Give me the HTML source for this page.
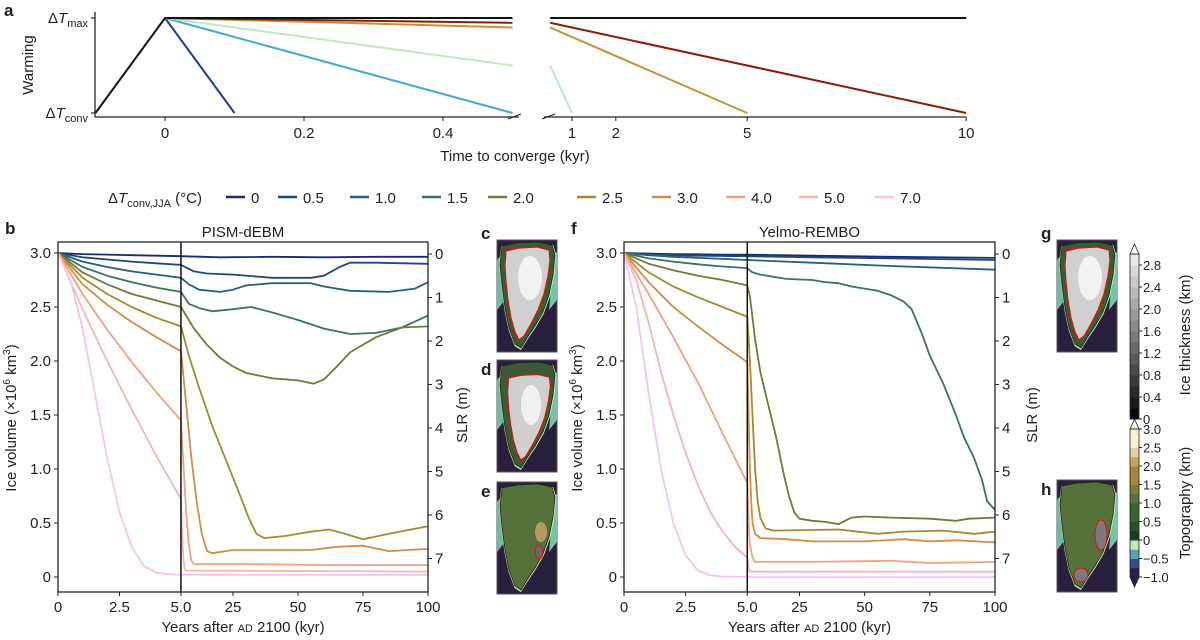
<!DOCTYPE html>
<html><head><meta charset="utf-8"><style>
body{margin:0;background:#fff}
svg{display:block;font-family:"Liberation Sans",sans-serif}
text{fill:#222}
</style></head><body>
<svg id="fig" width="1200" height="640" viewBox="0 0 1200 640" xmlns="http://www.w3.org/2000/svg">
<defs>
<path id="gl" d="M5,6 L20,3 L40,2 L55,5 L58,15 L56,35 L52,55 L46,72 L38,86 L30,98 L24,108 L18,104 L12,88 L8,68 L5,45 L3,25 Z"/>
<path id="ice" d="M9,11 L22,8 L40,7 L52,10 L53,20 L51,36 L47,54 L41,70 L34,84 L27,96 L22,100 L18,92 L14,78 L11,60 L9,42 L8,26 Z"/>
</defs>
<g id="panelA"></g>
<g id="legend"></g>
<g id="panelB"></g>
<g id="panelF"></g>
<g id="maps"></g>
<g id="cbars"></g>
</svg>
<script>
// ---------- data ----------
const levelLabels = ["0","0.5","1.0","1.5","2.0","2.5","3.0","4.0","5.0","7.0"];
const levelColors = ["#1b2a72","#1f4878","#25617a","#3b7262","#6c7d3a","#a48a2e","#d48c44","#f4a07e","#f8b3b3","#f6c3f0"];
// panel a: convergence times (kyr)
const convTimes = [0.1, 0.5, 1, 5, 10];
const convColors = ["#1d3d9e","#44a9d9","#bde9c3","#c39234","#8b1b0c"];
const aTicksLeft = [0, 0.2, 0.4];
const aTicksRight = [1, 2, 5, 10];
// panel b: PISM-dEBM
const pismT = [
 [0,1,2,3,4,5,20,40,60,80,100],
 [0,1,2,3,4,5,10,15,25,40,55,60,66,70,80,100],
 [0,1,2,3,4,5,8,12,20,25,30,40,55,60,70,85,95,100],
 [0,1,2,3,4,5,8,12,17,25,32,40,50,60,70,80,90,100],
 [0,1,2,3,4,5,10,15,20,25,30,40,50,56,60,65,70,80,90,100],
 [0,1,2,3,4,5,8,12,17,22,27,31,34,37,45,55,62,68,75,85,100],
 [0,1,2,3,4,5,7,9,11,13,15,17,25,40,55,65,75,85,100],
 [0,1,2,3,4,5,6,7,8,9,10,30,60,100],
 [0,1,2,3,4,5,5.5,6,6.5,7,100],
 [0,0.5,1,1.5,2,2.5,3,3.5,4,4.5,5,100]
];
const pismV = [
 [3.0,2.99,2.985,2.98,2.975,2.97,2.96,2.965,2.96,2.965,2.965],
 [3.0,2.96,2.94,2.92,2.905,2.89,2.83,2.81,2.80,2.77,2.77,2.79,2.87,2.91,2.91,2.90],
 [3.0,2.92,2.87,2.83,2.80,2.77,2.71,2.66,2.64,2.66,2.70,2.72,2.72,2.69,2.65,2.64,2.67,2.73],
 [3.0,2.87,2.79,2.73,2.68,2.64,2.53,2.49,2.46,2.48,2.50,2.45,2.38,2.30,2.25,2.26,2.31,2.42],
 [3.0,2.82,2.71,2.62,2.56,2.50,2.30,2.15,2.03,1.95,1.89,1.84,1.82,1.79,1.83,1.95,2.08,2.22,2.31,2.32],
 [3.0,2.77,2.62,2.50,2.40,2.32,2.05,1.75,1.40,1.10,0.80,0.55,0.40,0.36,0.38,0.42,0.44,0.40,0.35,0.40,0.47],
 [3.0,2.71,2.52,2.36,2.22,2.09,1.6,1.1,0.7,0.4,0.24,0.22,0.25,0.25,0.25,0.28,0.29,0.24,0.26],
 [3.0,2.62,2.29,1.99,1.71,1.45,1.0,0.6,0.3,0.15,0.12,0.12,0.11,0.11],
 [3.0,2.48,2.0,1.55,1.12,0.72,0.35,0.15,0.07,0.06,0.05],
 [3.0,2.75,2.3,1.7,1.1,0.6,0.28,0.1,0.04,0.025,0.02,0.02]
];
// panel f: Yelmo-REMBO
const yelmoT = [
 [0,1,2,3,4,5,30,60,100],
 [0,1,2,3,4,5,30,60,100],
 [0,1,2,3,4,5,30,60,100],
 [0,1,2,3,4,5,7,10,15,20,25,30,35,40,45,50,55,60,65,68,72,75,80,85,88,92,95,97,100],
 [0,1,2,3,4,5,6,8,10,13,16,19,21,23,25,30,35,40,45,50,60,75,85,90,100],
 [0,1,2,3,4,5,6,7,8,9,10,12,15,40,55,65,80,92,100],
 [0,1,2,3,4,5,5.5,6,6.5,7,8,10,20,30,50,65,75,85,100],
 [0,1,2,3,4,5,5.5,6,7,8,30,60,75,100],
 [0,0.5,1,1.5,2,2.5,3,3.5,4,4.5,5,5.5,6,100],
 [0,0.5,1,1.5,2,2.5,3,3.5,4,5,100]
];
const yelmoV = [
 [3.0,2.995,2.99,2.988,2.985,2.985,2.975,2.965,2.955],
 [3.0,2.99,2.98,2.975,2.972,2.97,2.96,2.95,2.935],
 [3.0,2.98,2.965,2.955,2.945,2.935,2.91,2.88,2.845],
 [3.0,2.95,2.92,2.895,2.875,2.86,2.82,2.80,2.78,2.76,2.755,2.75,2.73,2.72,2.69,2.67,2.65,2.61,2.55,2.48,2.25,2.05,1.8,1.5,1.3,1.1,0.9,0.7,0.62],
 [3.0,2.90,2.84,2.79,2.75,2.70,2.60,2.2,1.9,1.6,1.3,0.95,0.75,0.6,0.54,0.52,0.51,0.49,0.55,0.56,0.55,0.54,0.52,0.54,0.55],
 [3.0,2.82,2.69,2.59,2.50,2.41,2.0,1.5,1.0,0.7,0.55,0.45,0.43,0.44,0.40,0.42,0.43,0.40,0.42],
 [3.0,2.73,2.50,2.32,2.15,1.99,1.5,1.0,0.7,0.5,0.4,0.36,0.35,0.33,0.33,0.35,0.33,0.34,0.32],
 [3.0,2.62,2.22,1.80,1.33,0.87,0.5,0.3,0.18,0.14,0.14,0.15,0.13,0.14],
 [3.0,2.75,2.35,1.9,1.5,1.15,0.85,0.6,0.42,0.28,0.18,0.08,0.05,0.05],
 [3.0,2.5,1.7,1.0,0.5,0.2,0.06,0.015,0.005,0.0,0.0]
];
const volTicks = [0,0.5,1.0,1.5,2.0,2.5,3.0];
const volTickLabels = ["0","0.5","1.0","1.5","2.0","2.5","3.0"];
const timeTicks = [0,2.5,5,25,50,75,100];
const timeTickLabels = ["0","2.5","5.0","25","50","75","100"];
const slrTicks = [0,1,2,3,4,5,6,7];
const iceTicks = [0,0.4,0.8,1.2,1.6,2.0,2.4,2.8];
const topoTicks = [-1.0,-0.5,0,0.5,1.0,1.5,2.0,2.5,3.0];
const topoTickLabels = ["\u22121.0","\u22120.5","0","0.5","1.0","1.5","2.0","2.5","3.0"];

// ---------- helpers ----------
const NS="http://www.w3.org/2000/svg";
function mk(parent,tag,attrs,txt){const e=document.createElementNS(NS,tag);for(const k in attrs)e.setAttribute(k,attrs[k]);if(txt!==undefined)e.textContent=txt;parent.appendChild(e);return e;}

// ---------- panel a ----------
const A=document.getElementById("panelA");
const yMax=18,yConv=113,axY=117;
function axL(t){return 165+t*695;}
function axR(t){return 572+(t-1)*43.8;}
let t0=mk(A,"text",{x:4,y:16,"font-size":17,"font-weight":"bold"},"a");


let yl=mk(A,"text",{transform:"translate(33,65) rotate(-90)","text-anchor":"middle","font-size":15},"Warming");


let sp=mk(A,"line",{x1:95,y1:12,x2:95,y2:117,stroke:"#222","stroke-width":1.3});


[[yMax,"max"],[yConv,"conv"]].forEach(([y,s])=>{
  mk(A,"line",{x1:91,y1:y,x2:95,y2:y,stroke:"#222","stroke-width":1.2});
  const tx=mk(A,"text",{x:88,y:y+5,"text-anchor":"end","font-size":15});
  
  
  mk(tx,"tspan",{},"\u0394");
  mk(tx,"tspan",{"font-style":"italic"},"T");
  mk(tx,"tspan",{"font-size":11,dy:4},s);
});
let xa1=mk(A,"line",{x1:95,y1:axY,x2:519,y2:axY,stroke:"#222","stroke-width":1.3});


let xa2=mk(A,"line",{x1:544,y1:axY,x2:966,y2:axY,stroke:"#222","stroke-width":1.3});


mk(A,"line",{x1:508,y1:119,x2:521,y2:114,stroke:"#222","stroke-width":1.2});
mk(A,"line",{x1:542,y1:119,x2:555,y2:114,stroke:"#222","stroke-width":1.2});
aTicksLeft.forEach(t=>{const x=axL(t);mk(A,"line",{x1:x,y1:axY,x2:x,y2:axY+4,stroke:"#222"});
  const l=mk(A,"text",{x:x,y:138,"text-anchor":"middle","font-size":15},String(t));
  
  });
aTicksRight.forEach(t=>{const x=axR(t);mk(A,"line",{x1:x,y1:axY,x2:x,y2:axY+4,stroke:"#222"});
  const l=mk(A,"text",{x:x,y:138,"text-anchor":"middle","font-size":15},String(t));
  
  });
let xt=mk(A,"text",{x:515,y:161,"text-anchor":"middle","font-size":15},"Time to converge (kyr)");


function yAt(t,tc){return yMax+(yConv-yMax)*Math.min(t/tc,1);}
convTimes.forEach((tc,i)=>{
  const tl=Math.min(tc,0.5);
  let l=mk(A,"line",{x1:axL(0),y1:yMax,x2:axL(tl),y2:yAt(tl,tc),stroke:convColors[i],"stroke-width":2});
  
  
  if(tc>0.5){
    let r=mk(A,"line",{x1:axR(0.5),y1:yAt(0.5,tc),x2:axR(tc),y2:yConv,stroke:convColors[i],"stroke-width":2});
    
    
  }
});
let bl=mk(A,"polyline",{points:`${axL(-0.1)},${yConv} ${axL(0)},${yMax} ${axL(0.5)},${yMax}`,fill:"none",stroke:"#111","stroke-width":2});


let br=mk(A,"line",{x1:axR(0.5),y1:yMax,x2:axR(10),y2:yMax,stroke:"#111","stroke-width":2});



// ---------- legend ----------
const L=document.getElementById("legend");
const lt=mk(L,"text",{x:108,y:203,"font-size":15});


mk(lt,"tspan",{},"\u0394");mk(lt,"tspan",{"font-style":"italic"},"T");
mk(lt,"tspan",{"font-size":11,dy:4},"conv,JJA");mk(lt,"tspan",{dy:-4}," (\u00B0C)");
const legX=[226,278,350,422,488,577,652,726,799,875];
levelLabels.forEach((lab,i)=>{
  const g=mk(L,"g",{});
  
  
  mk(g,"line",{x1:legX[i],y1:197,x2:legX[i]+19,y2:197,stroke:levelColors[i],"stroke-width":2.5});
  mk(g,"text",{x:legX[i]+25,y:203,"font-size":15},lab);
});

// ---------- panels b / f ----------
function panel(gid,x0,x1,title,letter,T,V,slrX){
  const G=document.getElementById(gid);
  const yTop=242,yBot=592;
  const xs5=x0+(x1-x0)*0.3323;
  const X=t=>t<=5?x0+t*(xs5-x0)/5:xs5+(t-5)*(x1-xs5)/95;
  const Y=v=>577-v*108;
  let lb=mk(G,"text",{x:x0-53,y:234,"font-size":17,"font-weight":"bold"},letter);
  
  
  let tt=mk(G,"text",{x:(x0+x1)/2,y:237,"text-anchor":"middle","font-size":15},title);
  
  
  T.forEach((ts,i)=>{
    const pts=ts.map((t,j)=>X(t).toFixed(1)+","+Y(V[i][j]).toFixed(1)).join(" ");
    const p=mk(G,"polyline",{points:pts,fill:"none",stroke:levelColors[i],"stroke-width":1.8,"stroke-linejoin":"round"});
    
    
  });
  let vl=mk(G,"line",{x1:X(5),y1:yTop,x2:X(5),y2:yBot,stroke:"#111","stroke-width":1.5});
  
  
  let box=mk(G,"rect",{x:x0,y:yTop,width:x1-x0,height:yBot-yTop,fill:"none",stroke:"#222","stroke-width":1.3});
  
  
  volTicks.forEach((v,i)=>{mk(G,"line",{x1:x0-4,y1:Y(v),x2:x0,y2:Y(v),stroke:"#222"});
    const l=mk(G,"text",{x:x0-7,y:Y(v)+5,"text-anchor":"end","font-size":15},volTickLabels[i]);
    
    });
  timeTicks.forEach((t,i)=>{mk(G,"line",{x1:X(t),y1:yBot,x2:X(t),y2:yBot+4,stroke:"#222"});
    const l=mk(G,"text",{x:X(t),y:yBot+20,"text-anchor":"middle","font-size":15},timeTickLabels[i]);
    
    });
  slrTicks.forEach(m=>{const y=254+m*43.5;mk(G,"line",{x1:x1,y1:y,x2:x1+4,y2:y,stroke:"#222"});
    const l=mk(G,"text",{x:x1+7,y:y+5,"font-size":15},String(m));
    
    });
  const yt=mk(G,"text",{transform:`translate(${x0-42},418) rotate(-90)`,"text-anchor":"middle","font-size":15});
  
  
  mk(yt,"tspan",{},"Ice volume (\u00D710");mk(yt,"tspan",{"font-size":10,dy:-6},"6");
  mk(yt,"tspan",{dy:6}," km");mk(yt,"tspan",{"font-size":10,dy:-6},"3");mk(yt,"tspan",{dy:6},")");
  const st=mk(G,"text",{transform:`translate(${slrX},415) rotate(-90)`,"text-anchor":"middle","font-size":15},"SLR (m)");
  
  
  const xt=mk(G,"text",{x:(x0+x1)/2,y:632,"text-anchor":"middle","font-size":15});
  
  
  mk(xt,"tspan",{},"Years after ");mk(xt,"tspan",{"font-size":11},"AD");mk(xt,"tspan",{}," 2100 (kyr)");
}
panel("panelB",58,428,"PISM-dEBM","b",pismT,pismV,467);
panel("panelF",624,995,"Yelmo-REMBO","f",yelmoT,yelmoV,1037);

// ---------- maps ----------
const M=document.getElementById("maps");
function map(x,y,letter,kind){
  const g=mk(M,"g",{transform:`translate(${x},${y})`});
  
  
  mk(g,"rect",{x:0,y:0,width:60,height:112,fill:"#2a1f3c",stroke:"#555","stroke-width":1});
  mk(g,"path",{d:"M0,20 L8,10 L8,60 L0,70 Z",fill:"#6fb9a8"});
  mk(g,"path",{d:"M57,14 L60,12 L60,60 L52,70 Z",fill:"#79c2a6"});
  mk(g,"use",{href:"#gl",transform:"translate(-1,0) scale(1.04,1.02)",fill:"#cfe9a8"});
  mk(g,"use",{href:"#gl",fill:kind==="e"||kind==="h"?"#56703a":"#3d5a34",stroke:"#1a2a1a","stroke-width":0.8});
  if(kind==="c"||kind==="g"){mk(g,"use",{href:"#ice",fill:"#d0d0d0",stroke:"#e01010","stroke-width":1.2});
    mk(g,"ellipse",{cx:33,cy:38,rx:12,ry:22,fill:"#f2f2f2"});}
  if(kind==="d"){mk(g,"use",{href:"#ice",fill:"#cfcfcf",stroke:"#e01010","stroke-width":1.2,transform:"translate(3,8) scale(0.95,0.92)"});
    mk(g,"ellipse",{cx:34,cy:45,rx:10,ry:20,fill:"#f0f0f0"});}
  if(kind==="e"){mk(g,"ellipse",{cx:44,cy:50,rx:6,ry:10,fill:"#b49a5a"});
    mk(g,"ellipse",{cx:42,cy:70,rx:4,ry:7,fill:"#666",stroke:"#e01010","stroke-width":1});}
  if(kind==="h"){mk(g,"ellipse",{cx:44,cy:55,rx:6,ry:15,fill:"#7a7a7a",stroke:"#e01010","stroke-width":1});
    mk(g,"ellipse",{cx:24,cy:95,rx:7,ry:7,fill:"#7a7a7a",stroke:"#e01010","stroke-width":1});}
  const t=mk(M,"text",{x:x-16,y:y+(letter==="c"||letter==="g"?-1:15),"font-size":17,"font-weight":"bold"},letter);
  
  
}
map(497,240,"c","c");map(497,360,"d","d");map(497,482,"e","e");
map(1057,240,"g","g");map(1057,480,"h","h");

// ---------- colorbars ----------
const C=document.getElementById("cbars");
const cx=1130,cw=9;
const YI=v=>419-v*55;
for(let v=0;v<3.0;v+=0.2){const g=Math.round(10+v/3*240);
  mk(C,"rect",{x:cx,y:YI(v+0.2),width:cw,height:YI(v)-YI(v+0.2)+0.5,fill:`rgb(${g},${g},${g})`});}
mk(C,"path",{d:`M${cx},${YI(3.0)} L${cx+cw/2},${YI(3.0)-10} L${cx+cw},${YI(3.0)} Z`,fill:"#fff",stroke:"#222","stroke-width":0.8});
let cb1=mk(C,"rect",{x:cx,y:YI(3.0),width:cw,height:YI(0)-YI(3.0),fill:"none",stroke:"#222","stroke-width":0.8});


iceTicks.forEach(v=>{mk(C,"line",{x1:cx+cw,y1:YI(v),x2:cx+cw+3,y2:YI(v),stroke:"#222"});
  const l=mk(C,"text",{x:cx+cw+4,y:YI(v)+5,"font-size":13},v===0?"0":v.toFixed(1));
  
  });
let ct1=mk(C,"text",{transform:"translate(1190,335) rotate(-90)","text-anchor":"middle","font-size":15},"Ice thickness (km)");


const YT=v=>540-v*37;
const topoCols=["#1b3d1e","#28502a","#3d6430","#5a7236","#7e7d3a","#a5883e","#c8a25e","#e6cfa0","#f7f1d6","#fbf8e8"];
const negCols=["#2b1f4e","#3a4a86","#5f9fae","#c5e6b8"];
for(let v=-1;v<3.0;v+=0.25){
  let col=v<0?negCols[Math.round((v+1)/0.25)]:topoCols[Math.min(9,Math.round(v/0.3333))];
  mk(C,"rect",{x:cx,y:YT(v+0.25),width:cw,height:YT(v)-YT(v+0.25)+0.5,fill:col});
}
mk(C,"path",{d:`M${cx},${YT(3)} L${cx+cw/2},${YT(3)-10} L${cx+cw},${YT(3)} Z`,fill:"#fbf8e8",stroke:"#222","stroke-width":0.8});
mk(C,"path",{d:`M${cx},${YT(-1)} L${cx+cw/2},${YT(-1)+10} L${cx+cw},${YT(-1)} Z`,fill:"#2b1f4e",stroke:"#222","stroke-width":0.8});
let cb2=mk(C,"rect",{x:cx,y:YT(3),width:cw,height:YT(-1)-YT(3),fill:"none",stroke:"#222","stroke-width":0.8});


topoTicks.forEach((v,i)=>{mk(C,"line",{x1:cx+cw,y1:YT(v),x2:cx+cw+3,y2:YT(v),stroke:"#222"});
  const l=mk(C,"text",{x:cx+cw+4,y:YT(v)+5,"font-size":13},topoTickLabels[i]);
  
  });
let ct2=mk(C,"text",{transform:"translate(1190,503) rotate(-90)","text-anchor":"middle","font-size":15},"Topography (km)");


</script>
</body></html>
